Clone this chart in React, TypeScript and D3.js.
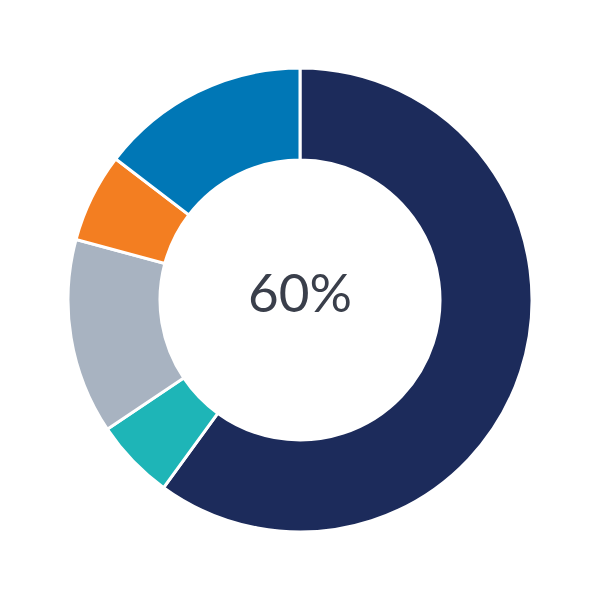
import React from "react";
import * as d3 from "d3";

const categories = ["Navy", "Teal", "Grey", "Orange", "Blue"];
const values = [60, 5.6, 13.6, 6.2, 14.6];
const colors = ["#1c2b5b", "#1eb5b7", "#a8b3c1", "#f37e21", "#0077b6"];
const centerLabel = "60%";

export default function App() {
  const width = 600;
  const height = 600;
  const cx = 300;
  const cy = 300;
  const outerR = 232;
  const innerR = 140;

  const pie = d3
    .pie<number>()
    .value((d) => d)
    .sort(null);
  const arcs = pie(values);
  const arc = d3.arc<d3.PieArcDatum<number>>().innerRadius(innerR).outerRadius(outerR);

  return (
    <svg
      width={width}
      height={height}
      style={{ position: "absolute", left: 0, top: 0 }}
    >
      <rect width={width} height={height} fill="#ffffff" />
      <g transform={`translate(${cx},${cy})`}>
        {arcs.map((a, i) => (
          <path
            key={categories[i]}
            d={arc(a) || ""}
            fill={colors[i]}
            stroke="#ffffff"
            strokeWidth={3}
          />
        ))}
        <text
          x={0}
          y={12}
          textAnchor="middle"
          fontFamily="Lato"
          fontWeight={400}
          fontSize={53}
          fill="#3a3f4b"
        >
          {centerLabel}
        </text>
      </g>
    </svg>
  );
}
